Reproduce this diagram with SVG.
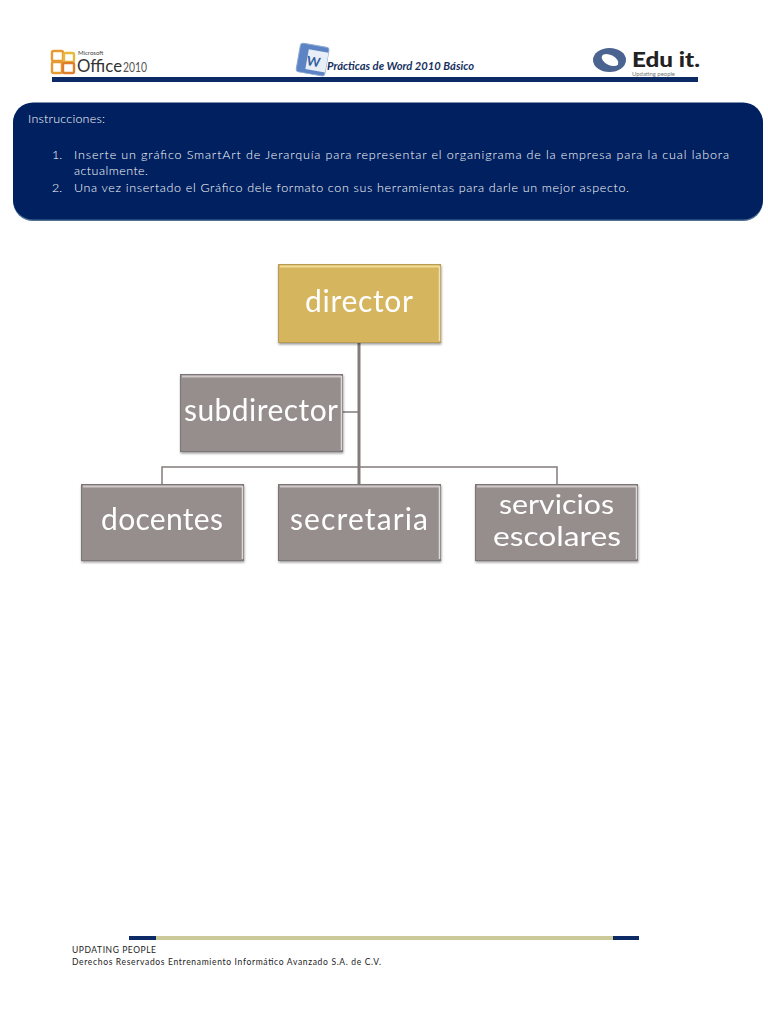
<svg xmlns="http://www.w3.org/2000/svg" width="768" height="1024" viewBox="0 0 768 1024">
<style>
text{font-family:"Lato","Noto Sans",sans-serif}
.ins{fill:#fff;font-size:12.5px;font-weight:300}
.lab{fill:#fff;font-size:30px;text-anchor:middle;font-weight:400}
.lab2{fill:#fff;font-size:27px;text-anchor:middle;font-weight:400}
.foot{fill:#222;font-size:8.5px}
.conn{fill:none;stroke:#827b7b}
.box{fill:#968d8d;stroke:#7d7676;stroke-width:1}
.gold{fill:#d6b55f;stroke:#b89c52;stroke-width:1}
.hi{fill:none;stroke:#cfc9c9;stroke-width:2}
.hig{fill:none;stroke:#f0dc96;stroke-width:2}
.edge{fill:none;stroke:#ddd8d8;stroke-width:1.5}
.edgeg{fill:none;stroke:#efe0ae;stroke-width:1.5}
</style>
<defs>
<filter id="sh" x="-5%" y="-5%" width="110%" height="112%"><feDropShadow dx="0.5" dy="1.5" stdDeviation="1" flood-color="#000" flood-opacity="0.4"/></filter>
</defs>
<rect width="768" height="1024" fill="#fff"/>
<g id="header">
<rect x="52" y="77" width="646" height="5" fill="#0b2a66"/>
<g fill="none" stroke="#e79a32" stroke-width="2.4"><rect x="52" y="51" width="11" height="10" rx="1.5"/><rect x="64" y="53" width="10" height="9" rx="1.5" stroke="#e8b83e"/><rect x="52" y="62" width="10" height="11" rx="1.5"/><rect x="63" y="63" width="11" height="10" rx="1.5" stroke="#df7d2a"/></g>
<text x="78" y="55" font-size="6" fill="#444">Microsoft</text>
<text x="77" y="72" font-size="17" fill="#333" textLength="45" lengthAdjust="spacingAndGlyphs">Office</text>
<text x="123" y="71.500" font-size="12.500" fill="#555" textLength="24" lengthAdjust="spacingAndGlyphs">2010</text>
<g transform="rotate(10 312 60)"><rect x="298" y="45" width="29" height="29" rx="3" fill="#5c84c4" stroke="#8fa9d2"/><rect x="307" y="50" width="20" height="20" fill="#e8eef7"/><text x="307" y="66" font-size="13" font-weight="700" fill="#35609f">W</text></g>
<text x="327" y="70" font-size="11.500" font-style="italic" font-weight="700" fill="#17315f" textLength="147" lengthAdjust="spacingAndGlyphs">Prácticas de Word 2010 Básico</text>
<ellipse cx="609.500" cy="60" rx="16.500" ry="12" fill="#4a6390"/><ellipse cx="610" cy="60" rx="9" ry="5" fill="#fff" transform="rotate(28 610 60)"/>
<text x="632" y="67" font-size="21" font-weight="900" fill="#222" textLength="68" lengthAdjust="spacingAndGlyphs">Edu it.</text>
<text x="632" y="75.500" font-size="5.500" fill="#777" textLength="43" lengthAdjust="spacingAndGlyphs">Updating people</text>
</g>
<g id="instrucciones">
<rect x="13" y="104" width="750" height="117" rx="20" fill="#4d7192"/>
<rect x="13" y="102.500" width="750" height="117" rx="20" fill="#00205f"/>
<text class="ins" x="28" y="123" textLength="77">Instrucciones:</text>
<text class="ins" x="52" y="159">1.</text>
<text class="ins" x="74" y="159" textLength="655">Inserte un gráfico SmartArt de Jerarquía para representar el organigrama de la empresa para la cual labora</text>
<text class="ins" x="74" y="175" textLength="74">actualmente.</text>
<text class="ins" x="52" y="192">2.</text>
<text class="ins" x="74" y="192" textLength="555">Una vez insertado el Gráfico dele formato con sus herramientas para darle un mejor aspecto.</text>
</g>
<g id="connectors">
<path class="conn" stroke-width="3" d="M359 342V484"/>
<path class="conn" stroke-width="1.500" d="M343 412H358M162 484V467H557V484"/>
</g>
<g id="director" filter="url(#sh)"><rect class="gold" x="278.500" y="264.500" width="162" height="78"/><path class="hig" d="M280 266.500H439"/><path class="edgeg" d="M439.500 266V341"/><text class="lab" x="359" y="312" textLength="108">director</text></g>
<g id="subdirector" filter="url(#sh)"><rect class="box" x="180.500" y="374.500" width="162" height="77"/><path class="hi" d="M182 376.500H341"/><path class="edge" d="M341.500 376V450"/><text class="lab" x="261" y="421" textLength="154">subdirector</text></g>
<g id="docentes" filter="url(#sh)"><rect class="box" x="81.500" y="484.500" width="162" height="76"/><path class="hi" d="M83 486.500H242"/><path class="edge" d="M242.500 486V559"/><text class="lab" x="162" y="530" textLength="122">docentes</text></g>
<g id="secretaria" filter="url(#sh)"><rect class="box" x="278.500" y="484.500" width="162" height="76"/><path class="hi" d="M280 486.500H439"/><path class="edge" d="M439.500 486V559"/><text class="lab" x="359" y="530" textLength="138">secretaria</text></g>
<g id="servicios" filter="url(#sh)"><rect class="box" x="475.500" y="484.500" width="162" height="76"/><path class="hi" d="M477 486.500H636"/><path class="edge" d="M636.500 486V559"/><text class="lab2" x="556.500" y="513.500" textLength="115" lengthAdjust="spacingAndGlyphs">servicios</text><text class="lab2" x="557" y="546" textLength="128" lengthAdjust="spacingAndGlyphs">escolares</text></g>
<g id="footer">
<rect x="129" y="936" width="27" height="4" fill="#0b2a66"/>
<rect x="156" y="936" width="457" height="4" fill="#cbc89a"/>
<rect x="613" y="936" width="26" height="4" fill="#0b2a66"/>
<text class="foot" x="72" y="953" textLength="84">UPDATING PEOPLE</text>
<text class="foot" x="72" y="965" textLength="309">Derechos Reservados Entrenamiento Informático Avanzado S.A. de C.V.</text>
</g>
</svg>
